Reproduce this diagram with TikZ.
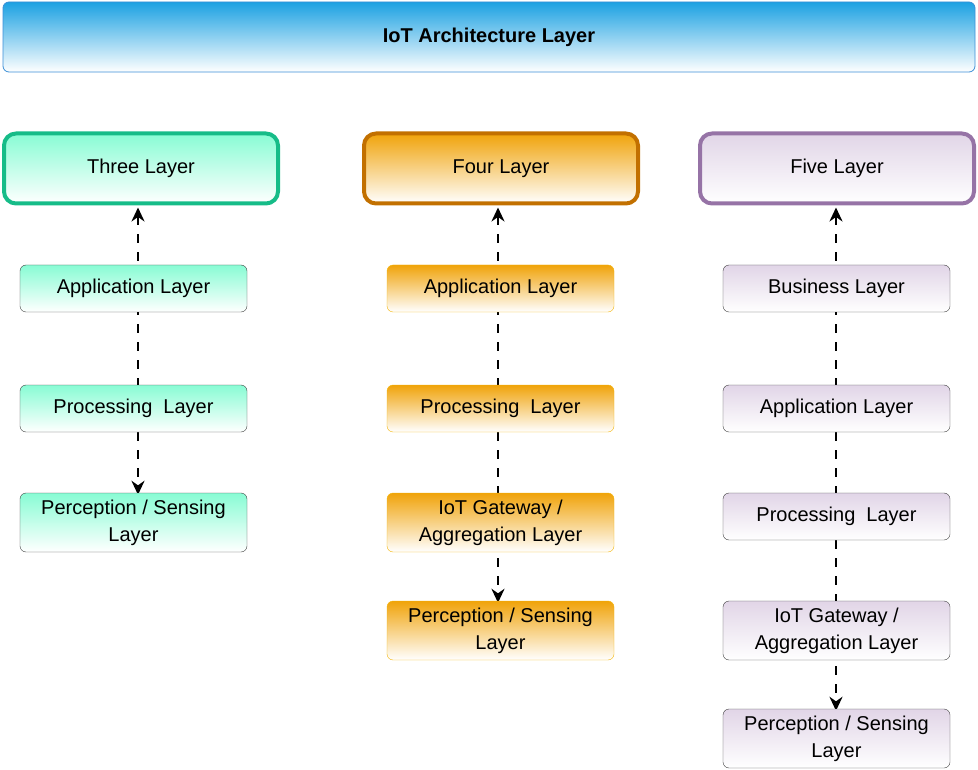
\documentclass[tikz,border=0pt]{standalone}
\usepackage{fontspec}
\setmainfont{Liberation Sans}
\usetikzlibrary{arrows.meta,backgrounds}
\definecolor{gb}{HTML}{16BC88}
\definecolor{gt}{HTML}{88FCD4}
\definecolor{ob}{HTML}{C27000}
\definecolor{ot}{HTML}{F0A30A}
\definecolor{pb}{HTML}{9673A6}
\definecolor{pt}{HTML}{E1D5E7}
\definecolor{bt}{HTML}{1BA1E2}
\definecolor{bb}{HTML}{3C8FD6}
\begin{document}
\begin{tikzpicture}[x=1pt,y=-1pt,
  lbl/.style={font=\fontsize{20}{27}\selectfont,align=center},
  box/.style={rounded corners=6pt,inner sep=0pt,lbl},
  head/.style={box,line width=4pt,rounded corners=12pt},
  conn/.style={dashed,line width=2.5pt,dash pattern=on 9pt off 9pt,-{Stealth[length=14pt,width=13pt]}},
  conn2/.style={dashed,line width=2.5pt,dash pattern=on 9pt off 9pt,{Stealth[length=14pt,width=13pt]}-{Stealth[length=14pt,width=13pt]}}]
\useasboundingbox (0,0) rectangle (978,770);
\newcommand{\bx}[7]{\node[box,draw=#6,top color=#7,bottom color=white,minimum width=#3pt,minimum height=#4pt] (#1) at (#2) {#5};}
% title
\node[box,draw=bb,line width=0.8pt,top color=bt,bottom color=white,minimum width=972pt,minimum height=70pt,font=\fontsize{20}{24}\selectfont\bfseries] (title) at (489,37) {IoT Architecture Layer};
% headers
\node[head,draw=gb,top color=gt,bottom color=white,minimum width=274pt,minimum height=70pt] (h1) at (141,168.5) {Three Layer};
\node[head,draw=ob,top color=ot,bottom color=white,minimum width=274pt,minimum height=70pt] (h2) at (501,168.5) {Four Layer};
\node[head,draw=pb,top color=pt,bottom color=white,minimum width=274pt,minimum height=70pt] (h3) at (837,168.5) {Five Layer};
% col1
\bx{a1}{133.5,288.5}{227}{47}{Application Layer}{black!75}{gt}
\bx{b1}{133.5,408.5}{227}{47}{Processing~ Layer}{black!75}{gt}
\bx{c1}{133.5,522.5}{227}{59}{Perception / Sensing\\ Layer}{black!75}{gt}
% col2
\bx{a2}{500.5,288.5}{227}{47}{Application Layer}{ot!80!yellow}{ot}
\bx{b2}{500.5,408.5}{227}{47}{Processing~ Layer}{ot!80!yellow}{ot}
\bx{c2}{500.5,522.5}{227}{59}{IoT Gateway /\\ Aggregation Layer}{ot!80!yellow}{ot}
\bx{d2}{500.5,630.5}{227}{59}{Perception / Sensing\\ Layer}{ot!80!yellow}{ot}
% col3
\bx{a3}{836.5,288.5}{227}{47}{Business Layer}{black!75}{pt}
\bx{b3}{836.5,408.5}{227}{47}{Application Layer}{black!75}{pt}
\bx{c3}{836.5,516.5}{227}{47}{Processing~ Layer}{black!75}{pt}
\bx{d3}{836.5,630.5}{227}{59}{IoT Gateway /\\ Aggregation Layer}{black!75}{pt}
\bx{e3}{836.5,738.5}{227}{59}{Perception / Sensing\\ Layer}{black!75}{pt}
\begin{scope}[on background layer]
\draw[conn2] (h1.south -| 138,0) ++(0,2) -- ([xshift=4.5pt,yshift=-2pt]c1.north);
\draw[conn2] (h2.south -| 498,0) ++(0,2) -- ([xshift=-2.5pt,yshift=-2pt]d2.north);
\draw[conn2] (h3.south -| 836,0) ++(0,2) -- ([xshift=-0.5pt,yshift=-2pt]e3.north);
\end{scope}
\end{tikzpicture}
\end{document}
